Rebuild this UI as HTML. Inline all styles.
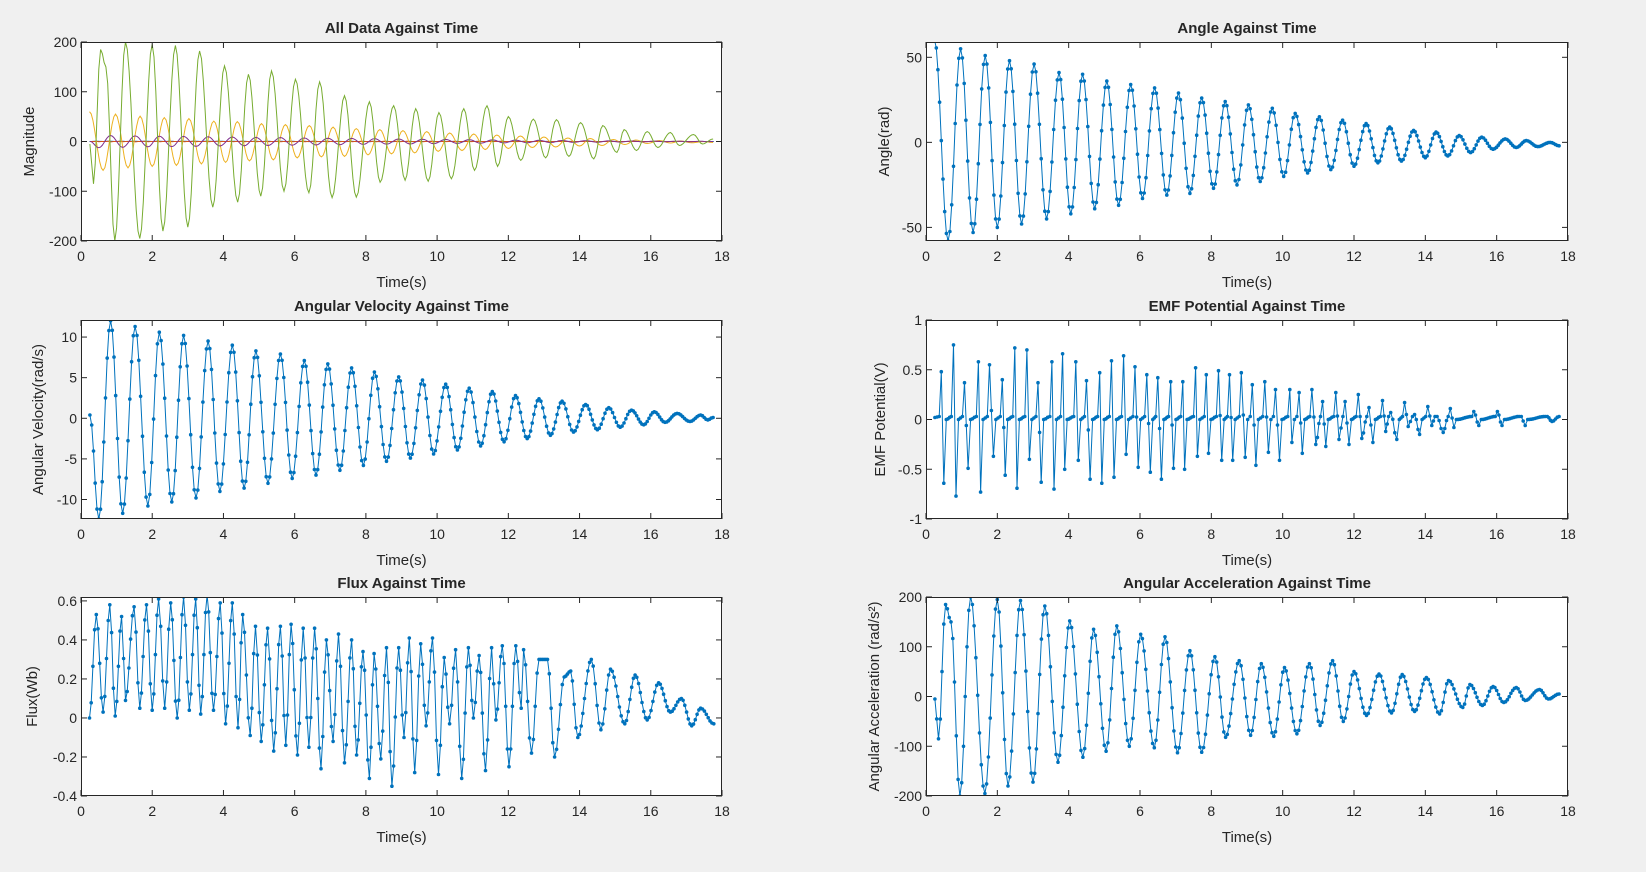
<!DOCTYPE html>
<html><head><meta charset="utf-8">
<style>
html,body{margin:0;padding:0;background:#f0f0f0;}
svg{display:block;}
text{font-family:"Liberation Sans",sans-serif;fill:#262626;}
</style></head>
<body>
<svg id="fig" width="1646" height="872" xmlns="http://www.w3.org/2000/svg"></svg>
<script>
// ---- Data (extremes) ----
const angleT = [0.24,0.62,0.97,1.32,1.66,2.0,2.34,2.68,3.03,3.38,3.73,4.06,4.39,4.73,5.07,5.4,5.74,6.07,6.41,6.75,7.08,7.4,7.73,8.06,8.39,8.72,9.04,9.37,9.71,10.03,10.35,10.7,11.03,11.35,11.68,12.0,12.34,12.67,13.0,13.33,13.67,14.0,14.3,14.63,14.95,15.27,15.58,15.9,16.24,16.55,16.83,17.15,17.5,17.75];
const angleV = [60,-58,55,-53,51,-50,48,-48,46,-45,41,-42,40,-39,36,-37,34,-33,32,-31,29,-30,26,-27,24,-25,22,-23,20,-20,17,-18,15,-16,13,-14,11,-12,9,-11,7,-9,6,-8,4,-6,3,-4,2,-3,1,-2.5,0,-2];
const velT = [0.25,0.5,0.83,1.17,1.52,1.88,2.2,2.55,2.88,3.23,3.57,3.9,4.25,4.58,4.91,5.25,5.6,5.93,6.27,6.6,6.93,7.27,7.6,7.93,8.24,8.58,8.92,9.25,9.59,9.9,10.24,10.57,10.9,11.22,11.55,11.88,12.2,12.53,12.86,13.18,13.51,13.83,14.17,14.5,14.82,15.14,15.46,15.8,16.1,16.4,16.74,17.1,17.4,17.6,17.75];
const velV = [0.4,-12.4,12,-11.7,11.3,-10.8,10.6,-10.3,10.2,-9.8,9.5,-9.0,9.0,-8.6,8.3,-8.0,7.9,-7.4,7.1,-7.0,6.7,-6.4,6.2,-5.8,5.7,-5.3,5.1,-4.9,4.7,-4.4,4.2,-3.9,3.7,-3.4,3.3,-2.9,2.8,-2.5,2.4,-2.1,2.1,-1.7,1.7,-1.4,1.3,-1.1,1.0,-0.8,0.8,-0.5,0.6,-0.4,0.4,-0.2,0.1];
const accT = [0.25,0.35,0.55,0.7,0.95,1.25,1.65,2.0,2.3,2.65,3.0,3.33,3.7,4.03,4.4,4.7,5.05,5.35,5.7,6.02,6.4,6.7,7.05,7.4,7.73,8.1,8.4,8.78,9.1,9.4,9.75,10.05,10.4,10.75,11.05,11.4,11.7,12.0,12.35,12.7,13.05,13.35,13.7,14.03,14.4,14.65,15.05,15.25,15.6,15.9,16.2,16.55,16.8,17.2,17.45,17.75];
const accV = [-5,-85,185,150,-200,200,-195,195,-180,193,-172,182,-132,152,-122,135,-110,142,-100,125,-103,120,-113,92,-112,80,-82,72,-78,66,-80,58,-75,66,-58,72,-50,50,-38,45,-33,44,-30,38,-35,32,-22,24,-18,20,-12,18,-8,14,-5,5];
const emfPeakT = [0.43,0.77,1.08,1.47,1.78,2.14,2.49,2.83,3.14,3.53,3.83,4.2,4.5,4.87,5.2,5.54,5.86,6.19,6.5,6.86,7.2,7.56,7.86,8.2,8.51,8.84,9.15,9.5,9.8,10.2,10.46,10.82,11.12,11.49,11.75,12.12,12.42,12.8,13.03,13.42,13.7,14.07,14.33,14.7,15.36,16.02,16.69,17.42];
const emfPeakV = [0.48,0.75,0.37,0.58,0.55,0.40,0.72,0.70,0.37,0.58,0.66,0.58,0.39,0.47,0.59,0.64,0.53,0.45,0.42,0.38,0.38,0.52,0.45,0.49,0.45,0.47,0.35,0.38,0.30,0.30,0.27,0.30,0.18,0.27,0.18,0.25,0.12,0.19,0.07,0.17,0.05,0.13,0.03,0.11,0.08,0.08,0.03,0.03];
const emfTroughT = [0.5,0.84,1.18,1.53,1.89,2.22,2.55,2.9,3.23,3.59,3.89,4.27,4.6,4.93,5.27,5.61,5.95,6.29,6.6,6.94,7.25,7.61,7.92,8.29,8.6,8.95,9.25,9.6,9.91,10.26,10.55,10.93,11.21,11.58,11.86,12.22,12.53,12.89,13.2,13.52,13.84,14.18,14.5,14.8,15.5,16.15,16.8,17.55];
const emfTroughV = [-0.64,-0.77,-0.49,-0.73,-0.37,-0.56,-0.69,-0.40,-0.63,-0.70,-0.50,-0.41,-0.60,-0.64,-0.58,-0.35,-0.48,-0.53,-0.60,-0.49,-0.50,-0.37,-0.34,-0.41,-0.41,-0.38,-0.46,-0.33,-0.41,-0.23,-0.34,-0.25,-0.27,-0.20,-0.25,-0.19,-0.23,-0.12,-0.20,-0.07,-0.15,-0.06,-0.13,-0.08,-0.06,-0.06,-0.06,-0.02];
const fluxT = [0.24,0.43,0.62,0.81,0.96,1.14,1.25,1.49,1.65,1.84,2.0,2.18,2.35,2.52,2.7,2.88,3.04,3.22,3.36,3.54,3.72,3.91,4.06,4.25,4.41,4.54,4.75,4.9,5.06,5.24,5.41,5.6,5.75,5.9,6.08,6.24,6.4,6.56,6.74,6.89,7.08,7.23,7.4,7.6,7.74,7.92,8.1,8.23,8.42,8.58,8.73,8.92,9.07,9.22,9.37,9.54,9.69,9.87,10.04,10.2,10.35,10.52,10.69,10.88,11.02,11.18,11.36,11.53,11.65,11.83,12.02,12.21,12.36,12.43,12.65,12.86,13.1,13.3,13.57,13.75,13.95,14.33,14.6,14.87,15.27,15.56,15.9,16.22,16.55,16.86,17.15,17.4,17.77];
const fluxV = [0.0,0.53,0.03,0.58,0.01,0.52,0.09,0.57,0.05,0.58,0.04,0.61,0.05,0.59,0.0,0.62,0.04,0.61,0.02,0.63,0.04,0.59,-0.03,0.59,-0.05,0.53,-0.09,0.47,-0.12,0.46,-0.17,0.47,-0.14,0.48,-0.19,0.46,-0.15,0.46,-0.26,0.40,-0.12,0.43,-0.23,0.40,-0.19,0.34,-0.31,0.33,-0.21,0.36,-0.35,0.36,-0.10,0.41,-0.28,0.38,-0.04,0.41,-0.29,0.31,-0.03,0.35,-0.31,0.36,0.0,0.32,-0.27,0.36,-0.01,0.37,-0.25,0.37,0.05,0.35,-0.18,0.30,0.30,-0.20,0.21,0.24,-0.10,0.30,-0.06,0.25,-0.03,0.22,-0.01,0.18,0.03,0.10,-0.04,0.05,-0.03];
const xTicks = [0,2,4,6,8,10,12,14,16,18];

// ---- helpers ----
const NS = "http://www.w3.org/2000/svg";
const svg = document.getElementById('fig');
function el(tag, attrs, parent){const e=document.createElementNS(NS,tag);for(const k in attrs)e.setAttribute(k,attrs[k]);(parent||svg).appendChild(e);return e;}

// smooth (cosine) path through extremes, sampled at dt
function densify(T,V,dt){
  const out=[];
  for(let i=0;i<T.length-1;i++){
    const t0=T[i],t1=T[i+1],v0=V[i],v1=V[i+1];
    const n=Math.max(1,Math.round((t1-t0)/dt));
    for(let k=0;k<n;k++){const f=k/n;const w=(1-Math.cos(Math.PI*f))/2;out.push([t0+(t1-t0)*f,v0+(v1-v0)*w]);}
  }
  out.push([T[T.length-1],V[V.length-1]]);
  return out;
}
function emfPoints(){
  const T=[0.25],V=[0.02];
  for(let i=0;i<emfPeakT.length;i++){
    const pt=emfPeakT[i];
    T.push(pt-0.06);V.push(0.03);
    T.push(pt);V.push(emfPeakV[i]);
    T.push(emfTroughT[i]);V.push(emfTroughV[i]);
    if(i<emfPeakT.length-1){const nt=emfPeakT[i+1];const gap=nt-emfTroughT[i];
      if(gap>0.2){T.push(emfTroughT[i]+0.07);V.push(0.0);}
    }
  }
  T.push(17.75);V.push(0.03);
  return [T,V];
}

function makeAxes(name,x0,y0,w,h,ymin,ymax,yTicks,title,ylabel,ylabX){
  const g=el('g',{});
  
  
  const bg=el('rect',{x:x0,y:y0,width:w,height:h,fill:'#fff'},g);
  
  
  const sx=t=>x0+t/18*w, sy=v=>y0+h-(v-ymin)/(ymax-ymin)*h;
  const clipId='c'+name;
  const cp=el('clipPath',{id:clipId},g);el('rect',{x:x0,y:y0,width:w,height:h},cp);
  const plot=el('g',{'clip-path':'url(#'+clipId+')'},g);
  // ticks
  xTicks.forEach(t=>{
    const X=sx(t);
    el('line',{x1:X,y1:y0+h,x2:X,y2:y0+h-6,stroke:'#262626','stroke-width':1},g);
    el('line',{x1:X,y1:y0,x2:X,y2:y0+6,stroke:'#262626','stroke-width':1},g);
    const tx=el('text',{x:X,y:y0+h+20,'text-anchor':'middle','font-size':14},g);tx.textContent=t;
    
    
  });
  yTicks.forEach(v=>{
    const Y=sy(v);
    el('line',{x1:x0,y1:Y,x2:x0+6,y2:Y,stroke:'#262626','stroke-width':1},g);
    el('line',{x1:x0+w,y1:Y,x2:x0+w-6,y2:Y,stroke:'#262626','stroke-width':1},g);
    const ty=el('text',{x:x0-4,y:Y+5,'text-anchor':'end','font-size':14},g);ty.textContent=v;
    
    
  });
  el('rect',{x:x0+0.5,y:y0+0.5,width:w-1,height:h-1,fill:'none',stroke:'#262626','stroke-width':1},g);
  const tt=el('text',{x:x0+w/2,y:y0-9,'text-anchor':'middle','font-size':15,'font-weight':'bold',fill:'#000'},g);tt.textContent=title;
  
  
  const xl=el('text',{x:x0+w/2,y:y0+h+46,'text-anchor':'middle','font-size':15},g);xl.textContent='Time(s)';
  
  
  const yl=el('text',{x:ylabX,y:y0+h/2,'text-anchor':'middle','font-size':15,transform:`rotate(-90 ${ylabX} ${y0+h/2})`},g);yl.textContent=ylabel;
  
  
  return {plot,sx,sy};
}
function drawSeries(ax,pts,color,markers,name){
  const d=pts.map((p,i)=>(i?'L':'M')+ax.sx(p[0]).toFixed(1)+' '+ax.sy(p[1]).toFixed(1)).join('');
  const path=el('path',{d,fill:'none',stroke:color,'stroke-width':1},ax.plot);
  
  
  if(markers){
    const g=el('g',{fill:color},ax.plot);
    
    
    pts.forEach(p=>el('circle',{cx:ax.sx(p[0]).toFixed(1),cy:ax.sy(p[1]).toFixed(1),r:1.8},g));
  }
}

const BLUE='#0072BD';
const anglePts=densify(angleT,angleV,0.05);
const velPts=densify(velT,velV,0.05);
const accPts=densify(accT,accV,0.05);
const fluxPts=densify(fluxT,fluxV,0.05);
const [eT,eV]=emfPoints();
const emfPts=densify(eT,eV,0.05);

// All data
const a1=makeAxes('all-data-chart',81,42,641,199,-200,200,[-200,-100,0,100,200],'All Data Against Time','Magnitude',34);
drawSeries(a1,fluxPts,BLUE,false,'flux-line');
drawSeries(a1,emfPts,'#D95319',false,'emf-line');
drawSeries(a1,anglePts,'#EDB120',false,'angle-line');
drawSeries(a1,velPts,'#7E2F8E',false,'velocity-line');
drawSeries(a1,accPts,'#77AC30',false,'acceleration-line');

const a2=makeAxes('angle-chart',926,42,642,199,-58,59,[-50,0,50],'Angle Against Time','Angle(rad)',889);
drawSeries(a2,anglePts,BLUE,true,'angle-series');

const a3=makeAxes('velocity-chart',81,320,641,199,-12.4,12.1,[-10,-5,0,5,10],'Angular Velocity Against Time','Angular Velocity(rad/s)',43);
drawSeries(a3,velPts,BLUE,true,'velocity-series');

const a4=makeAxes('emf-chart',926,320,642,199,-1,1,[-1,-0.5,0,0.5,1],'EMF Potential Against Time','EMF Potential(V)',885);
drawSeries(a4,emfPts,BLUE,true,'emf-series');

const a5=makeAxes('flux-chart',81,597,641,199,-0.4,0.62,[-0.4,-0.2,0,0.2,0.4,0.6],'Flux Against Time','Flux(Wb)',37);
drawSeries(a5,fluxPts,BLUE,true,'flux-series');

const a6=makeAxes('acceleration-chart',926,597,642,199,-200,200,[-200,-100,0,100,200],'Angular Acceleration Against Time','Angular Acceleration (rad/s²)',879);
drawSeries(a6,accPts,BLUE,true,'acceleration-series');
</script>
</body></html>
